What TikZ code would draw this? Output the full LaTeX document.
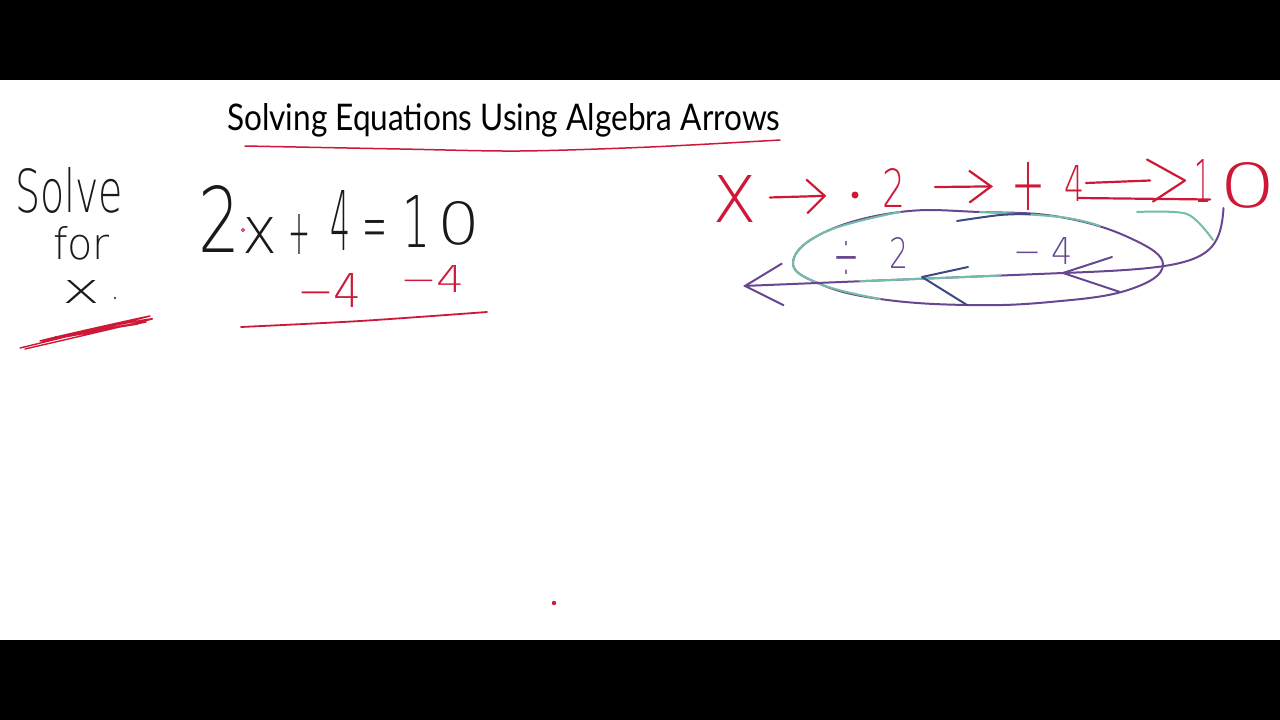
\documentclass[tikz,border=0pt]{standalone}
\usepackage{fontspec}
\usepackage{graphicx}
\usetikzlibrary{arrows.meta}
\newfontfamily\handfont{DejaVu Sans ExtraLight}
\newfontfamily\titlefont{Lato}
\definecolor{inkred}{RGB}{205,25,55}
\definecolor{inkblack}{RGB}{25,25,25}
\definecolor{inkpurple}{RGB}{105,70,145}
\definecolor{inkteal}{RGB}{115,190,170}
\definecolor{inkblue}{RGB}{60,75,130}
\newcommand\hwt[3]{\resizebox{#1pt}{#2pt}{#3}}
\begin{document}
\begin{tikzpicture}[x=1pt,y=-1pt,
  hw/.style={inner sep=0pt, outer sep=0pt, anchor=south west, font=\handfont},
  redhw/.style={hw, text=inkred},
  blackhw/.style={hw, text=inkblack},
  purplehw/.style={hw, text=inkpurple},
  redline/.style={draw=inkred, line width=2.2pt, line cap=round, line join=round},
  inkline/.style={line width=2pt, line cap=round, line join=round}]
\useasboundingbox (0,0) rectangle (1280,720);
\fill[white] (0,0) rectangle (1280,720);
\fill[black] (0,0) rectangle (1280,80);
\fill[black] (0,640) rectangle (1280,720);
% title
\node[inner sep=0pt, anchor=base west, font=\titlefont] (title) at (227,130) {\resizebox{553pt}{27pt}{Solving Equations Using Algebra Arrows}};
\draw[redline, line width=1.5pt] plot[smooth] coordinates {(245,146) (400,149) (520,151) (650,147) (780,140)};
% solve for x
\node[blackhw] (solve) at (15,213) {\hwt{108}{45}{Solve}};
\node[blackhw] (for) at (53,260) {\hwt{57}{33}{for}};
\node[blackhw] (xs) at (62,303) {\hwt{38}{23}{x}};
\fill[inkblack] (115,298) circle (1.2);
\draw[redline, line width=1.4pt] plot[smooth, tension=0.6] coordinates {(20,348) (150,316) (40,341) (146,322) (55,337) (138,324) (70,334) (152,319) (25,349)};
% equation
\node[blackhw] (e2) at (198,252) {\hwt{42}{67}{2}};
\node[blackhw] (ex) at (242,253) {\hwt{35}{36}{x}};
\draw[inkred, line width=0.8pt] (243,230) circle (1.5);
\node[blackhw] (eplus) at (288,254) {\hwt{22}{40}{+}};
\node[blackhw] (e4) at (330,250) {\hwt{20}{60}{4}};
\node[blackhw] (eeq) at (362,250) {\hwt{25}{30}{=}};
\node[blackhw] (e1) at (402,247) {\hwt{28}{52}{1}};
\node[blackhw] (e0) at (437,245) {\hwt{43}{43}{0}};
\node[redhw] (m1) at (297,307) {\hwt{65}{34}{−4}};
\node[redhw] (m2) at (400,292) {\hwt{65}{27}{−4}};
\draw[redline, line width=1.8pt] plot[smooth] coordinates {(241,327) (360,321) (487,312)};
% right: forward arrows
\node[redhw] (rx) at (712,222) {\hwt{45}{47}{x}};
\node[circle, fill=inkred, inner sep=0pt, minimum size=7pt] (dot) at (855,195) {};
\node[redhw] (r2) at (882,207) {\hwt{23}{39}{2}};
\node[redhw] (rplus) at (1011,210) {\hwt{34}{48}{+}};
\node[redhw] (r4) at (1064,201) {\hwt{20}{36}{4}};
\node[redhw] (r1) at (1194,202) {\hwt{17}{43}{1}};
\node[redhw] (r0) at (1218,208) {\hwt{59}{45}{0}};
\draw[redline, -{Straight Barb[length=18pt,width=34pt]}, shorten <=13pt, shorten >=25pt] (rx) -- (dot);
\draw[redline, -{Straight Barb[length=22pt,width=32pt]}, shorten <=30pt, shorten >=18pt] (r2) -- (rplus);
\coordinate (tip3) at ([xshift=-9pt]r1.west);
\draw[redline] ([xshift=2pt]r4.east) -- ([xshift=-35pt]tip3);
\draw[redline] ([shift={(-6,15)}]r4.east) -- ([shift={(25,19)}]tip3);
\draw[redline] ([shift={(-38,-21)}]tip3) -- (tip3) -- ([shift={(-32,21)}]tip3);
% reverse: loop and arrow
\draw[inkline, draw=inkpurple] plot[smooth cycle, tension=0.7] coordinates {(793,262) (825,232) (900,212) (980,212) (1060,217) (1130,238) (1163,265) (1128,290) (1050,302) (967,305) (880,299) (820,284)};
\draw[inkline, draw=inkteal] plot[smooth, tension=0.7] coordinates {(900,212) (825,232) (793,262) (820,284) (880,299)};
\draw[inkline, draw=inkteal] plot[smooth, tension=0.7] coordinates {(980,212) (1060,217) (1100,226)};
\draw[inkline, draw=inkblue] plot[smooth] coordinates {(957,221) (1000,215) (1030,214)};
\coordinate (backtip) at (743,286);
\draw[inkline, draw=inkpurple, -{Straight Barb[length=38pt,width=42pt]}] ([xshift=-24pt]r0.south) .. controls (1220,262) and (1200,268) .. (1063,273) -- (backtip);
\draw[inkline, draw=inkteal] (1000,275.6) -- (860,281.2);
\draw[inkline, draw=inkblue] (968,267) -- (922,277) -- (967,305);
\draw[inkline, draw=inkpurple] (1112,257) -- (1063,273) -- (1120,292);
\draw[inkline, draw=inkteal] plot[smooth] coordinates {(1137,212) (1187,214) (1213,240)};
\node[purplehw] (div) at (833,279) {\hwt{26}{38}{÷}};
\node[purplehw] (p2) at (889,268) {\hwt{19}{31}{2}};
\node[purplehw] (p4) at (1013,264) {\hwt{60}{27}{− 4}};
% stray dot
\fill[inkred] (554,603) circle (2.2);
\end{tikzpicture}
\end{document}
